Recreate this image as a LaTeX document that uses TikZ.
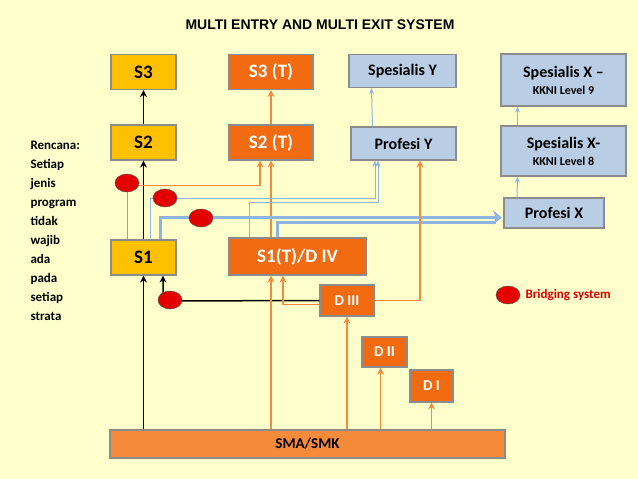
\documentclass[tikz,border=0pt]{standalone}
\usepackage{fontspec}
\setmainfont{Carlito}
\usetikzlibrary{arrows.meta,shapes.geometric}
\definecolor{bg}{HTML}{FFFFCC}
\definecolor{yel}{HTML}{FFC000}
\definecolor{ora}{HTML}{F26B10}
\definecolor{ora2}{HTML}{F58A3A}
\definecolor{lb}{HTML}{B9CDE5}
\definecolor{blu}{HTML}{8EB4E3}
\begin{document}
\begin{tikzpicture}[x=1pt,y=-1pt,
 box/.style={draw=black!45,line width=1.2pt,inner sep=0pt},
 yb/.style={box,fill=yel,minimum width=65pt,minimum height=35pt,font=\bfseries\fontsize{19}{19}\selectfont},
 ob/.style={box,fill=ora,text=white,minimum height=35pt,font=\bfseries\fontsize{19}{19}\selectfont},
 os/.style={box,fill=ora,text=white,font=\bfseries\fontsize{15}{15}\selectfont},
 bb/.style={box,fill=lb,minimum height=33pt,font=\bfseries\fontsize{16}{16}\selectfont},
 bridge/.style={ellipse,draw=black!70,fill=red!90!black,minimum width=24pt,minimum height=18pt,inner sep=0pt},
 ka/.style={black,line width=1.5pt,-{Stealth[length=7pt,width=7pt]}},
 oa/.style={ora2,line width=1.8pt,-{Stealth[length=7pt,width=7pt]}},
 ba/.style={blu,line width=1pt,-{Stealth[length=6pt,width=5pt]}},
 bt/.style={blu,line width=3pt,-{Stealth[length=9pt,width=14pt]}}]
\useasboundingbox[fill=bg] (0,0) rectangle (638,479);
\node[font=\fontspec{Liberation Sans}\bfseries\fontsize{14}{14}\selectfont] (title) at (320,25) {MULTI ENTRY AND MULTI EXIT SYSTEM};
\node[yb] (s3) at (143.5,72) {S3};
\node[yb] (s2) at (143.5,142.5) {S2};
\node[yb] (s1) at (143.5,257.5) {S1};
\node[ob,minimum width=84pt] (s3t) at (271,72) {S3 (T)};
\node[ob,minimum width=84pt] (s2t) at (271,142.5) {S2 (T)};
\node[ob,minimum width=137pt,minimum height=37pt] (s1t) at (297.5,256.5) {S1(T)/D IV};
\node[bb,minimum width=107pt] (spy) at (402.5,71) {Spesialis Y};
\node[bb,minimum width=105pt] (pry) at (403.5,143.5) {Profesi Y};
\node[bb,minimum width=125pt,minimum height=52pt,align=center] (spx) at (563.5,80) {Spesialis X --\\[1pt]{\fontsize{12}{12}\selectfont KKNI Level 9}};
\node[bb,minimum width=125pt,minimum height=50pt,align=center] (spx2) at (563.5,151) {Spesialis X-\\[1pt]{\fontsize{12}{12}\selectfont KKNI Level 8}};
\node[bb,minimum width=100pt,minimum height=30pt] (prx) at (554,213) {Profesi X};
\node[os,minimum width=54pt,minimum height=31pt] (d3) at (347,300.5) {D III};
\node[os,minimum width=45pt,minimum height=30pt] (d2) at (384.5,352) {D II};
\node[os,minimum width=43pt,minimum height=32pt] (d1) at (431.5,386) {D I};
\node[box,fill=ora2,minimum width=395pt,minimum height=28pt,font=\bfseries\fontsize{15}{15}\selectfont] (sma) at (307.5,444) {SMA/SMK};
\node[anchor=north west,align=left,font=\bfseries\fontsize{13}{19}\selectfont] (ren) at (27,138) {Rencana:\\Setiap\\jenis\\program\\tidak\\wajib\\ada\\pada\\setiap\\strata};
% vertical
\draw[ka] (s2.north) -- (s3.south);
\draw[ka] (s1.north) -- (s2.south);
\draw[oa] (s2t.north) -- (s3t.south);
\draw[oa] ([xshift=-26.5pt]s1t.north) -- (s2t.south);
\draw[ba] ([xshift=-31pt]pry.north) -- ([xshift=-31pt]spy.south);
\draw[ba] ([xshift=-46pt]spx2.north) -- ([xshift=-46pt]spx.south);
\draw[ba] ([xshift=-37pt]prx.north) -- ([xshift=-46pt]spx2.south);
% from S1
\draw[oa] ([xshift=-16pt]s1.north) -- ++(0,-54) -| ([xshift=-11pt]s2t.south);
\draw[ba] ([xshift=7pt]s1.north) |- (375,198) -- ([xshift=-28.5pt]pry.south);
\draw[ba] ([xshift=-48pt]s1t.north) |- (378,202) -- ([xshift=-25.5pt]pry.south);
\draw[blu,line width=3pt] ([xshift=-20pt]s1t.north) |- (496,222);
\draw[bt] ([xshift=17pt]s1.north) |- (502,217.5);
% bottom
\draw[ka] (sma.north -| s1) -- (s1.south);
\draw[ka] (d3.west) -- (163,301) -- ([xshift=19.5pt]s1.south);
\draw[oa] (sma.north -| s2t) -- ([xshift=-26.5pt]s1t.south);
\draw[oa] ([yshift=-4pt]d3.west) -| ([xshift=-14.5pt]s1t.south);
\draw[oa] (d3.east) -| ([xshift=16.5pt]pry.south);
\draw[oa] (sma.north -| d3) -- (d3.south);
\draw[oa] ([xshift=-4pt]sma.north -| d2) -- ([xshift=-4pt]d2.south);
\draw[oa] (sma.north -| d1) -- (d1.south);
% bridges
\node[bridge] (b1) at (127,183) {};
\node[bridge] (b2) at (165,198) {};
\node[bridge] (b3) at (201,218) {};
\node[bridge] (b4) at (170,300) {};
\node[bridge] (bl) at (508,295) {};
\node[anchor=west,text=red!85!black,font=\bfseries\fontsize{13}{13}\selectfont] (blt) at (522,295) {Bridging system};
\end{tikzpicture}
\end{document}
